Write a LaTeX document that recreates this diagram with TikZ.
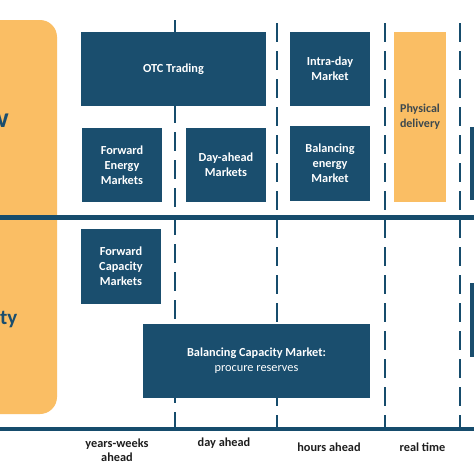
\documentclass[tikz,border=0pt]{standalone}
\usepackage{fontspec}
\setmainfont{Carlito}
\definecolor{boxblue}{RGB}{26,78,110}
\definecolor{linblue}{RGB}{22,76,108}
\definecolor{orng}{RGB}{250,190,100}
\definecolor{physt}{RGB}{60,72,78}
\definecolor{lbl}{RGB}{30,30,30}
\begin{document}
\begin{tikzpicture}[x=1pt,y=-1pt,
  mbox/.style={fill=boxblue, text=white, font=\fontsize{12.3}{15}\selectfont\bfseries, align=center, inner sep=0pt},
  dashv/.style={draw=linblue, line width=2.5pt, dash pattern=on 19pt off 9pt},
  axis/.style={draw=linblue, line width=4.5pt},
  tlabel/.style={text=lbl, font=\fontsize{12.3}{14}\selectfont\bfseries, align=center, inner sep=0pt}]
\useasboundingbox (0,0) rectangle (474,474);
\clip (0,0) rectangle (474,474);
\fill[white] (0,0) rectangle (474,474);
% left orange block
\fill[orng, rounded corners=17pt] (-40,20) rectangle (57,414);
\node[anchor=base east, inner sep=0pt, text=boxblue, font=\fontsize{28}{30}\selectfont\bfseries] (lefttop) at (9,127) {w};
\node[anchor=base east, inner sep=0pt, text=boxblue, font=\fontsize{21}{24}\selectfont\bfseries] (leftbot) at (17.5,324) {ty};
% dashed time dividers
\coordinate (d1t) at (175,20); \coordinate (d1b) at (175,429);
\coordinate (d2t) at (277,23); \coordinate (d2b) at (277,429);
\coordinate (d3t) at (385,23); \coordinate (d3b) at (385,429);
\coordinate (d4t) at (460,23); \coordinate (d4b) at (460,429);
\draw[dashv] (d1t) -- (d1b);
\draw[dashv] (d2t) -- (d2b);
\draw[dashv] (d3t) -- (d3b);
\draw[dashv] (d4t) -- (d4b);
% horizontal lines
\coordinate (h1l) at (0,217); \coordinate (h1r) at (474,217);
\coordinate (h2l) at (0,429); \coordinate (h2r) at (474,429);
\draw[axis, line width=5pt] (h1l) -- (h1r);
\draw[axis] (h2l) -- (h2r);
% energy boxes
\node[mbox, minimum width=185pt, minimum height=74pt] (otc) at (173.5,69) {OTC Trading};
\node[mbox, minimum width=80pt, minimum height=74pt] (fem) at (122,165) {\raisebox{0pt}{}Forward\\Energy\\Markets};
\node[mbox, minimum width=80pt, minimum height=74pt] (dam) at (226,165) {Day-ahead\\Markets};
\node[mbox, minimum width=80pt, minimum height=74pt] (idm) at (330,69) {Intra-day\\Market};
\node[mbox, minimum width=80pt, minimum height=75pt] (bem) at (330,163.5) {Balancing\\energy\\Market};
\node[fill=orng, text=physt, font=\fontsize{12}{15}\selectfont\bfseries, align=center, inner sep=0pt, minimum width=52pt, minimum height=170pt] (phys) at (420,117) {Physical\\delivery};
\node[mbox, minimum width=20pt, minimum height=73pt] (rgt1) at (480,163.5) {};
% capacity boxes
\node[mbox, minimum width=80pt, minimum height=75pt] (fcm) at (121,266.5) {Forward\\Capacity\\Markets};
\node[mbox, minimum width=227pt, minimum height=74pt] (bcm) at (256.5,361) {Balancing Capacity Market:\\\mdseries procure reserves};
\node[mbox, minimum width=20pt, minimum height=74pt] (rgt2) at (480,320) {};
% time labels
\node[tlabel] (lyw) at (117,450) {years-weeks\\ahead};
\node[tlabel] (lda) at (224,443.5) {day ahead};
\node[tlabel] (lha) at (329,447) {hours ahead};
\node[tlabel] (lrt) at (422.5,447) {real time};
\end{tikzpicture}
\end{document}
